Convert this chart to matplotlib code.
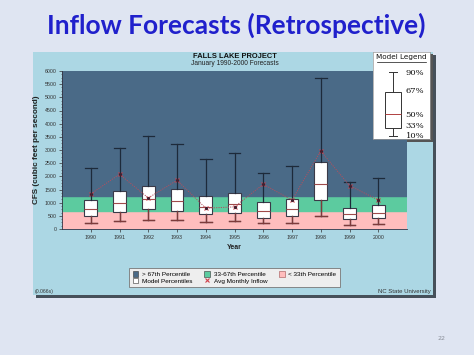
import matplotlib
matplotlib.use("Agg")
import matplotlib.pyplot as plt
from matplotlib.patches import Rectangle, Patch
from matplotlib.lines import Line2D
from matplotlib.ticker import MultipleLocator

# forecast percentiles per year (cfs)
years = [1990, 1991, 1992, 1993, 1994, 1995, 1996, 1997, 1998, 1999, 2000]
p10 = [230, 300, 350, 330, 270, 290, 215, 230, 480, 170, 205]
p33 = [480, 660, 750, 700, 560, 620, 430, 490, 1100, 370, 420]
p50 = [750, 980, 1150, 1050, 820, 940, 700, 750, 1710, 560, 600]
p67 = [1090, 1440, 1650, 1520, 1240, 1380, 1010, 1130, 2560, 810, 900]
p90 = [2320, 3070, 3550, 3230, 2640, 2900, 2130, 2400, 5720, 1800, 1930]
avg_inflow = [1330, 2080, 1180, 1850, 790, 840, 1700, 1100, 2960, 1650, 1100]

# climatology bands
band_low = 700
band_high = 1250
y_max = 6000

W, H = 474, 355
SLIDE_BG = "#dfe5f2"
PANEL = "#acd7e4"
DARK = "#4a6a87"
GREEN = "#5ccb9f"
PINK = "#ffbdbd"
SHADOW = "#46505a"


def rect(x0, y0, x1, y1):
    return [x0 / W, 1 - y1 / H, (x1 - x0) / W, (y1 - y0) / H]


fig = plt.figure(figsize=(W / 100, H / 100), dpi=100, facecolor=SLIDE_BG)

fig.text(236 / W, 1 - 25 / H, "Inflow Forecasts (Retrospective)", ha="center", va="center",
         fontsize=19, fontweight="bold", color="#2020cc", family="Lato")
fig.text(442 / W, 1 - 339 / H, "22", ha="center", va="center", fontsize=4.5, color="#8a8f99")

# chart panel with shadow
fig.patches.append(Rectangle((36 / W, 1 - 298 / H), 400 / W, 243 / H, transform=fig.transFigure,
                             facecolor=SHADOW, edgecolor="none", zorder=-3))
fig.patches.append(Rectangle((33 / W, 1 - 295 / H), 400 / W, 243 / H, transform=fig.transFigure,
                             facecolor=PANEL, edgecolor="none", zorder=-2))

fig.text(235 / W, 1 - 56 / H, "FALLS LAKE PROJECT", ha="center", va="center",
         fontsize=5.4, fontweight="bold", color="#111111", family="Liberation Sans")
fig.text(235 / W, 1 - 63.5 / H, "January 1990-2000 Forecasts", ha="center", va="center",
         fontsize=4.8, color="#222222", family="Liberation Sans")
fig.text(35 / W, 1 - 292 / H, "(0.066s)", ha="left", va="center", fontsize=3.7,
         color="#333333", family="Liberation Sans")
fig.text(431 / W, 1 - 291.5 / H, "NC State University", ha="right", va="center", fontsize=4.3,
         color="#333333", family="Liberation Sans")

ax = fig.add_axes(rect(62, 71, 407, 229))
ax.set_facecolor(DARK)
ax.axhspan(0, band_low, color=PINK, zorder=0)
ax.axhspan(band_low, band_high, color=GREEN, zorder=0)
ax.axhspan(band_high, y_max, color=DARK, zorder=0)

stats = []
for i, yr in enumerate(years):
    stats.append({"whislo": p10[i], "q1": p33[i], "med": p50[i], "q3": p67[i],
                  "whishi": p90[i], "label": str(yr)})
ax.bxp(stats, positions=years, widths=0.45, patch_artist=True, showfliers=False,
       boxprops=dict(facecolor="white", edgecolor="#3a3a48", linewidth=0.8),
       medianprops=dict(color="#a04a4a", linewidth=0.8),
       whiskerprops=dict(color="#1d2a3a", linewidth=0.9),
       capprops=dict(color="#1d2a3a", linewidth=0.9), capwidths=0.4)
# lower whiskers look brownish
for i, yr in enumerate(years):
    ax.plot([yr, yr], [p10[i], p33[i]], color="#7e3b3b", lw=0.9, zorder=3)
    ax.plot([yr - 0.2, yr + 0.2], [p10[i], p10[i]], color="#7e3b3b", lw=0.9, zorder=3)

ax.plot(years, avg_inflow, ls=(0, (1.2, 1.2)), color="#b05060", lw=0.7, zorder=4)
ax.plot(years, avg_inflow, ls="none", marker="x", ms=3.5, mew=0.8, color="#d0404a", zorder=5)
ax.plot(years, avg_inflow, ls="none", marker="o", ms=1.3, color="#402030", zorder=6)

ax.set_xlim(1989, 2001)
ax.set_ylim(0, y_max)
ax.set_xticks(years)
ax.set_xticklabels([str(y) for y in years])
ax.yaxis.set_major_locator(MultipleLocator(500))
ax.yaxis.set_minor_locator(MultipleLocator(125))
ax.tick_params(labelsize=3.8, colors="#333333", length=2, width=0.5, pad=2)
ax.tick_params(which="minor", length=1, width=0.4, colors="#333333")
for s in ["top", "right"]:
    ax.spines[s].set_visible(False)
for s in ["left", "bottom"]:
    ax.spines[s].set_color("#333344")
    ax.spines[s].set_linewidth(0.6)
ax.set_ylabel("CFS (cubic feet per second)", fontsize=5.9, fontweight="bold",
              color="#222222", labelpad=3, family="Liberation Sans")
ax.set_xlabel("Year", fontsize=5, fontweight="bold", color="#222222", labelpad=3,
              family="Liberation Sans")
for lab in ax.get_xticklabels() + ax.get_yticklabels():
    lab.set_family("Liberation Sans")

# bottom legend
handles = [Patch(facecolor=DARK, edgecolor="#333333", lw=0.4),
           Patch(facecolor="white", edgecolor="#333333", lw=0.4),
           Patch(facecolor=GREEN, edgecolor="#333333", lw=0.4),
           Line2D([], [], ls="none", marker="x", ms=3, mew=0.8, color="#d0404a"),
           Patch(facecolor=PINK, edgecolor="#a05050", lw=0.4)]
labels = ["> 67th Percentile", "Model Percentiles", "33-67th Percentile",
          "Avg Monthly Inflow", "< 33th Percentile"]
leg = fig.legend(handles, labels, ncol=3, loc="center",
                 bbox_to_anchor=(234.5 / W, 1 - 277.5 / H),
                 prop={"family": "Liberation Sans", "size": 4.6},
                 frameon=True, fancybox=False, facecolor="#eeeeee", edgecolor="#777777",
                 handlelength=0.9, handleheight=0.9, handletextpad=0.6, columnspacing=1.8,
                 labelspacing=0.1, borderpad=0.5, framealpha=1)
leg.get_frame().set_linewidth(0.6)

# model legend inset
fig.patches.append(Rectangle((375.5 / W, 1 - 141.5 / H), 57 / W, 88 / H, transform=fig.transFigure,
                             facecolor="#555555", edgecolor="none", zorder=-1))
lax = fig.add_axes(rect(373, 52, 430, 139))
lax.set_facecolor("white")
for s in lax.spines.values():
    s.set_color("#999999")
    s.set_linewidth(0.5)
lax.text(0.5, 0.94, "Model Legend", ha="center", va="center", fontsize=5.2,
         color="#111111", family="DejaVu Sans")
lax.plot([0.07, 0.93], [0.89, 0.89], color="#111111", lw=0.5)
legend_stat = [{"whislo": 0.03, "q1": 0.13, "med": 0.29, "q3": 0.545, "whishi": 0.765}]
lax.bxp(legend_stat, positions=[0.35], widths=0.29, patch_artist=True, showfliers=False,
        boxprops=dict(facecolor="white", edgecolor="#333333", linewidth=0.7),
        medianprops=dict(color="#b04040", linewidth=0.7),
        whiskerprops=dict(color="#333333", linewidth=0.7),
        capprops=dict(color="#333333", linewidth=0.7), capwidths=0.13)
lax.set_xlim(0, 1)
lax.set_ylim(0, 1)
lax.set_xticks([])
lax.set_yticks([])
for lbl, yy in zip(["90%", "67%", "50%", "33%", "10%"], [0.76, 0.55, 0.275, 0.155, 0.035]):
    lax.text(0.57, yy, lbl, ha="left", va="center", fontsize=6, color="#111111",
             family="DejaVu Serif")

fig.savefig("out.png", dpi=100, facecolor=SLIDE_BG)
